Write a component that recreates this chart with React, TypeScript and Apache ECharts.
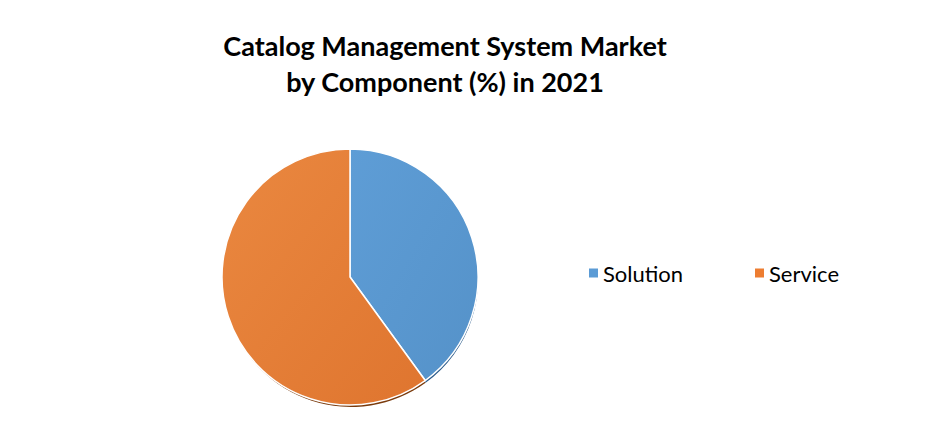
import React, { useEffect, useRef } from "react";
import * as echarts from "echarts";

const components = ["Solution", "Service"];
const shares = [40, 60];

const legendColors = ["#5b9bd5", "#ed7d31"];
const topColors = [
  ["#5e9dd6", "#5592c9"],
  ["#ea8840", "#df752f"],
];
const edgeColors = ["#2a5a8a", "#7a3a0c"];

const App: React.FC = () => {
  const chartRef = useRef<HTMLDivElement | null>(null);

  useEffect(() => {
    const chartDom = chartRef.current;
    if (!chartDom) return;
    const myChart = echarts.init(chartDom, undefined, { renderer: "svg" });

    const grad = (c1: string, c2: string) =>
      new echarts.graphic.LinearGradient(0, 0, 1, 1, [
        { offset: 0, color: c1 },
        { offset: 1, color: c2 },
      ]);

    const pieData = components.map((name, i) => ({
      name,
      value: shares[i],
      itemStyle: { color: grad(topColors[i][0], topColors[i][1]) },
    }));

    const edgeData = components.map((name, i) => ({
      name,
      value: shares[i],
      itemStyle: { color: edgeColors[i] },
    }));

    const legendFor = (i: number, left: number) => ({
      data: [{ name: components[i], itemStyle: { color: legendColors[i] } }],
      left,
      top: 257,
      icon: "rect",
      itemWidth: 9,
      itemHeight: 9,
      textStyle: { fontFamily: "Lato", fontSize: 22, color: "#000000" },
    });

    const option = {
      animation: false,
      backgroundColor: "#ffffff",
      title: {
        text: "Catalog Management System Market\nby Component (%) in 2021",
        left: 440,
        top: 22,
        textAlign: "center",
        textStyle: {
          fontFamily: "Lato",
          fontWeight: "bold",
          fontSize: 27,
          lineHeight: 36,
          color: "#000000",
        },
      },
      legend: [legendFor(0, 584), legendFor(1, 750)],
      series: [
        {
          name: "edge",
          type: "pie",
          center: [351, 280],
          radius: [0, 127],
          startAngle: 90,
          clockwise: true,
          silent: true,
          label: { show: false },
          labelLine: { show: false },
          itemStyle: { borderWidth: 0 },
          data: edgeData,
        },
        {
          name: "Component",
          type: "pie",
          center: [350, 277],
          radius: [0, 128],
          startAngle: 90,
          clockwise: true,
          label: { show: false },
          labelLine: { show: false },
          itemStyle: { borderColor: "#ffffff", borderWidth: 1.5 },
          data: pieData,
        },
      ],
    };

    myChart.setOption(option);
    return () => {
      myChart.dispose();
    };
  }, []);

  return (
    <div
      ref={chartRef}
      style={{ position: "absolute", left: 0, top: 0, width: 940, height: 448 }}
    />
  );
};

export default App;
